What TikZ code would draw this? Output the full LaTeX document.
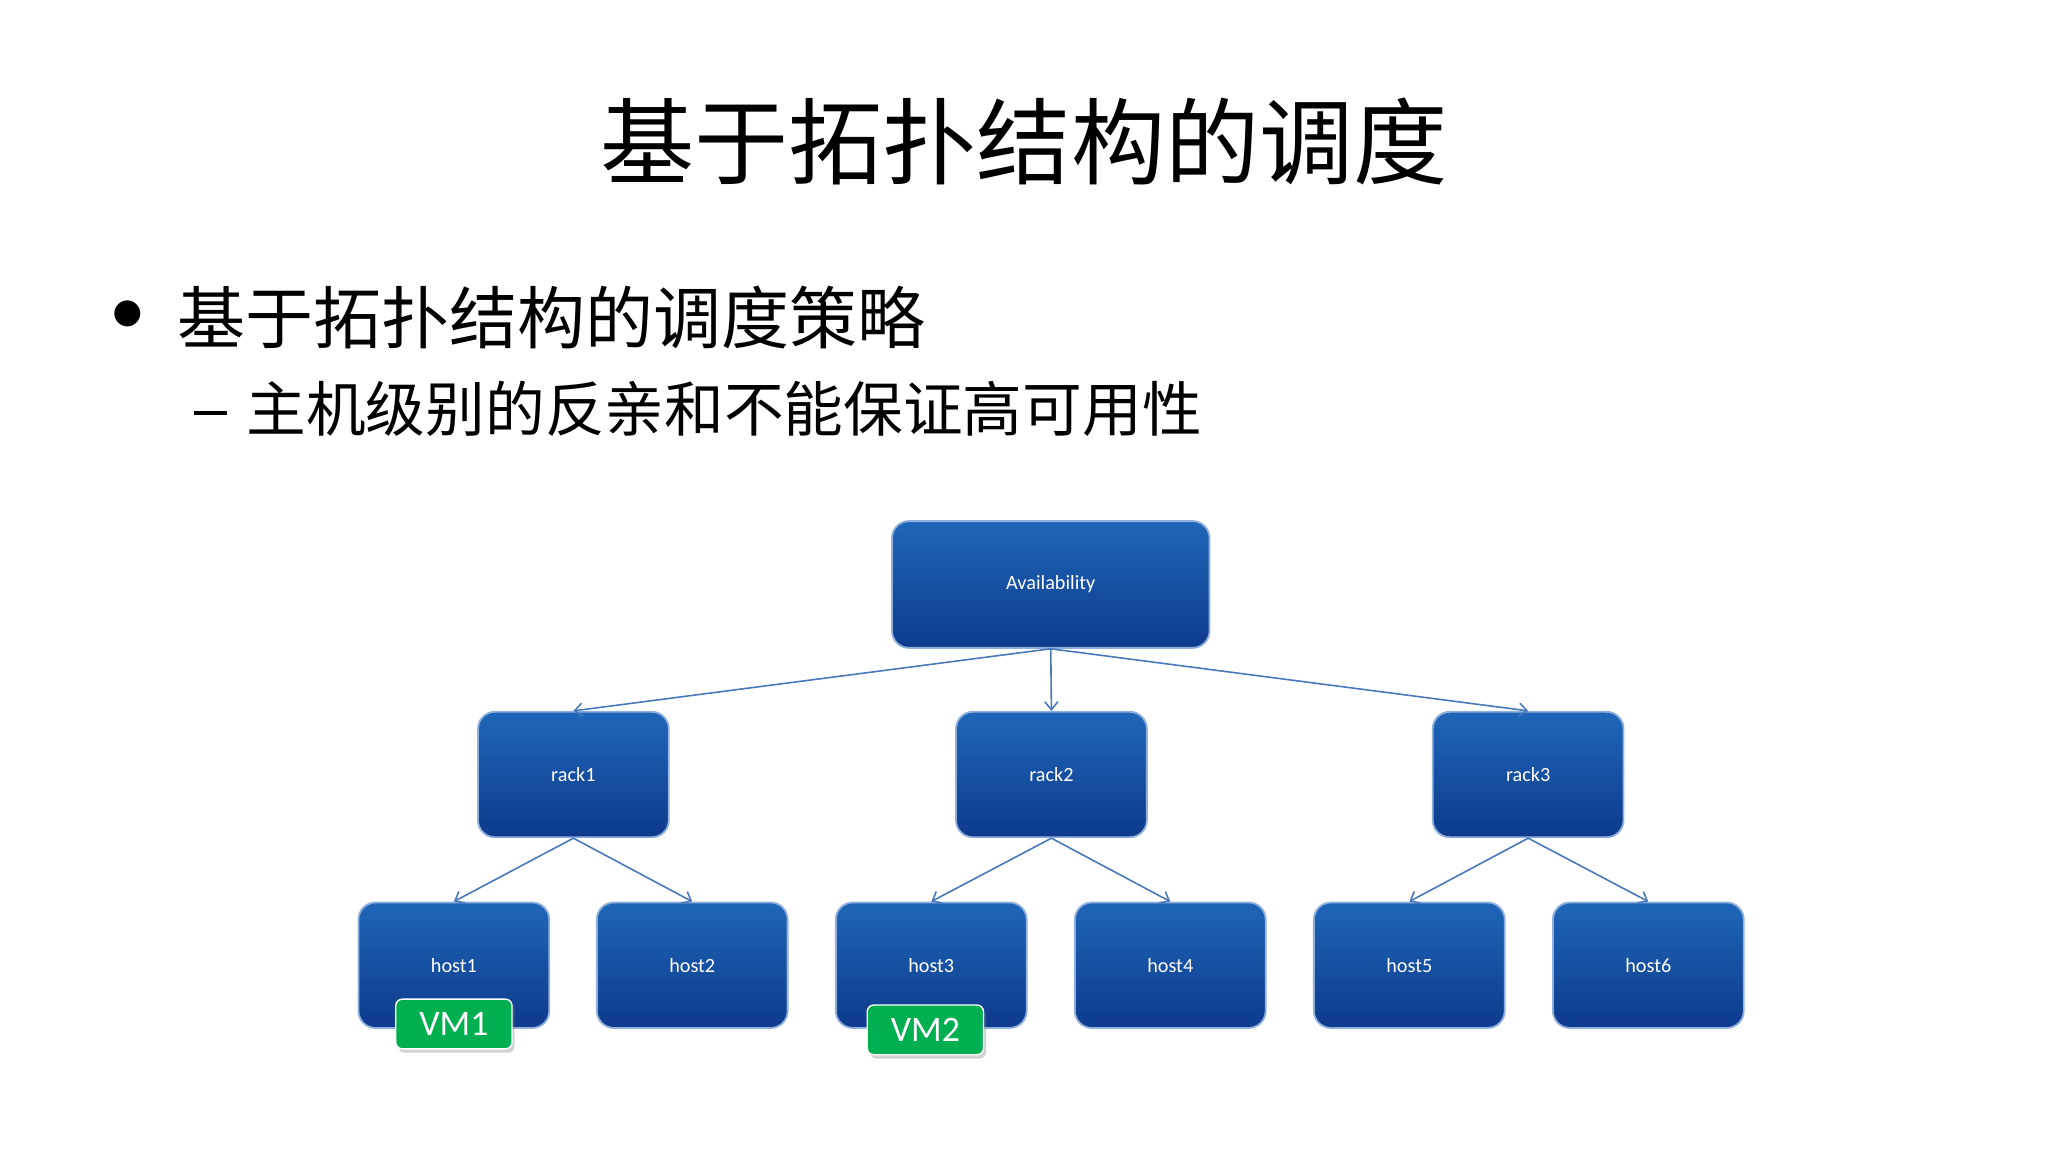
\documentclass[tikz,border=0pt]{standalone}
\usepackage{fontspec}
\setmainfont{Carlito}
\newfontfamily\cjk{Noto Sans CJK SC}
\usetikzlibrary{arrows.meta,shadows}
\definecolor{btop}{HTML}{1F66B8}
\definecolor{bbot}{HTML}{0E3A8C}
\definecolor{bedge}{HTML}{8FB0DC}
\definecolor{vmg}{HTML}{00B050}
\definecolor{ln}{HTML}{4A78BC}
\begin{document}
\begin{tikzpicture}[x=0.01cm,y=-0.01cm,
 box/.style={draw=bedge,line width=0.4pt,rounded corners=0.13cm,top color=btop,bottom color=bbot,
   minimum width=1.46cm,minimum height=0.96cm,font=\fontsize{4.4}{5}\selectfont,text=white,inner sep=0},
 vm/.style={fill=vmg,draw=white,line width=0.3pt,rounded corners=0.05cm,minimum width=0.89cm,minimum height=0.38cm,
   text=white,font=\fontsize{7.8}{8}\selectfont,inner sep=0,drop shadow={opacity=0.35,shadow xshift=0.02cm,shadow yshift=-0.03cm}},
 e/.style={draw=ln,line width=0.35pt,-{Straight Barb[length=0.06cm,width=0.1cm]}}]
\path[use as bounding box,fill=white] (0,0) rectangle (1568,882);
\node[font=\cjk\fontsize{20.5}{22}\selectfont] (t) at (784,108) {基于拓扑结构的调度};
\node[font=\fontsize{16}{18}\selectfont] (b1) at (98,243) {•};
\node[anchor=west,font=\cjk\fontsize{14.8}{18}\selectfont,inner sep=0] (l1) at (135,243) {基于拓扑结构的调度策略};
\node[anchor=west,inner sep=0] (d) at (148,316) {\rule{0.25cm}{0.8pt}};
\node[anchor=west,font=\cjk\fontsize{13}{16}\selectfont,inner sep=0] (l2) at (188,313) {主机级别的反亲和不能保证高可用性};
\node[box,minimum width=2.43cm,minimum height=0.97cm] (a) at (804.5,447.5) {Availability};
\node[box] (r1) at (439,593) {rack1};
\node[box] (r2) at (805,593) {rack2};
\node[box] (r3) at (1170,593) {rack3};
\node[box] (h1) at (347.5,739) {host1};
\node[box] (h2) at (530,739) {host2};
\node[box] (h3) at (713,739) {host3};
\node[box] (h4) at (896,739) {host4};
\node[box] (h5) at (1079,739) {host5};
\node[box] (h6) at (1262,739) {host6};
\node[vm] (v1) at (347.5,784) {VM1};
\node[vm] (v2) at (708.5,788.5) {VM2};
\foreach \r in {r1,r2,r3} \draw[e] (a.south) -- (\r.north);
\draw[e] (r1.south) -- (h1.north); \draw[e] (r1.south) -- (h2.north);
\draw[e] (r2.south) -- (h3.north); \draw[e] (r2.south) -- (h4.north);
\draw[e] (r3.south) -- (h5.north); \draw[e] (r3.south) -- (h6.north);
\end{tikzpicture}
\end{document}
